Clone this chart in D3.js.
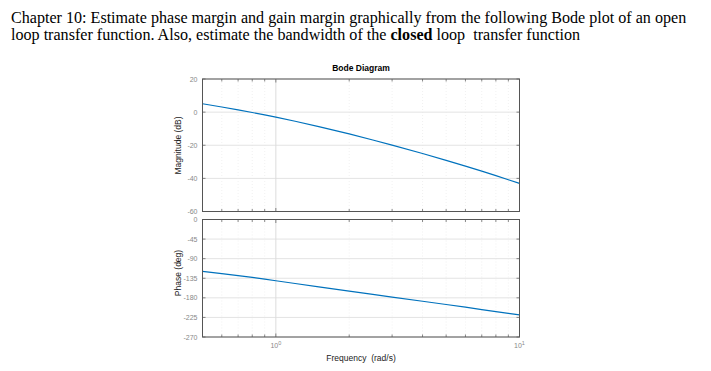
<!DOCTYPE html>
<html><head><meta charset="utf-8">
<script src="https://cdn.jsdelivr.net/npm/d3@7"></script>
<style>
body{margin:0;background:#fff;}
svg{display:block;}
text{white-space:pre;}
</style></head>
<body>
<svg id="c" width="711" height="371"></svg>
<script>
const freqs = [0.5,0.6,0.7,0.8,0.9,1,1.2,1.5,2,2.5,3,4,5,6,7,8,9,10];
const magDb = [5.04,3.09,1.35,-0.24,-1.70,-3.05,-5.52,-8.74,-13.18,-16.83,-19.92,-24.99,-29.10,-32.58,-35.62,-38.34,-40.80,-43.05];
const phaseDeg = [-119.4,-124.4,-129.0,-133.2,-137.1,-140.7,-147.0,-154.8,-164.7,-172.2,-178.3,-187.8,-195.3,-201.5,-206.9,-211.5,-215.7,-219.3];
const magTicks = [20,0,-20,-40,-60];
const phaseTicks = [0,-45,-90,-135,-180,-225,-270];
const minorFreqs = [0.6,0.7,0.8,0.9,2,3,4,5,6,7,8,9];
const majorFreqs = [1,10];
const headLines = ["Chapter 10: Estimate phase margin and gain margin graphically from the following Bode plot of an open",
  "loop transfer function. Also, estimate the bandwidth of the "];

const svg = d3.select("#c");
const L = 202.5, R = 519.5;
const x = d3.scaleLog().domain([0.5,10]).range([L,R]);
const yM = d3.scaleLinear().domain([-60,20]).range([211.5,79]);
const yP = d3.scaleLinear().domain([-270,0]).range([337,219.5]);

const hf = "'Liberation Serif','Times New Roman',serif";
svg.append("text").attr("x",11).attr("y",22.5).attr("font-family",hf).attr("font-size",16.1).attr("fill","#000").text(headLines[0]);
const t2 = svg.append("text").attr("x",11).attr("y",39.5).attr("font-family",hf).attr("font-size",16.1).attr("fill","#000");
t2.append("tspan").text(headLines[1]);
t2.append("tspan").attr("font-weight","bold").text("closed");
t2.append("tspan").text(" loop  transfer function");

const sf = "'Liberation Sans',Arial,Helvetica,sans-serif";
svg.append("text").attr("x",(L+R)/2).attr("y",71).attr("text-anchor","middle").attr("font-family",sf)
  .attr("font-size",8.5).attr("font-weight","bold").attr("fill","#000").text("Bode Diagram");

function panel(y, ticks, vals, label, labelY){
  const g = svg.append("g");
  const [b,t] = y.range();
  g.selectAll(".hg").data(ticks).join("line")
    .attr("x1",L).attr("x2",R).attr("y1",d=>y(d)).attr("y2",d=>y(d))
    .attr("stroke","#e3e3e3").attr("stroke-width",1);
  g.selectAll(".vm").data(minorFreqs).join("line")
    .attr("x1",d=>x(d)).attr("x2",d=>x(d)).attr("y1",t).attr("y2",b)
    .attr("stroke","#e8e8e8").attr("stroke-width",0.6).attr("stroke-dasharray","1,2");
  g.selectAll(".vM").data(majorFreqs).join("line")
    .attr("x1",d=>x(d)).attr("x2",d=>x(d)).attr("y1",t).attr("y2",b)
    .attr("stroke","#dcdcdc").attr("stroke-width",1);
  g.append("path").datum(freqs.map((f,i)=>[f,vals[i]]))
    .attr("fill","none").attr("stroke","#0072BD").attr("stroke-width",1.2)
    .attr("d",d3.line().x(d=>x(d[0])).y(d=>y(d[1])));
  const tk = "#555";
  g.selectAll(".tl").data(ticks).join("line")
    .attr("x1",L).attr("x2",L+3).attr("y1",d=>y(d)).attr("y2",d=>y(d)).attr("stroke",tk).attr("stroke-width",0.7);
  g.selectAll(".tr").data(ticks).join("line")
    .attr("x1",R).attr("x2",R-3).attr("y1",d=>y(d)).attr("y2",d=>y(d)).attr("stroke",tk).attr("stroke-width",0.7);
  const allF = minorFreqs.map(f=>[f,2.5]).concat(majorFreqs.map(f=>[f,3.5]));
  g.selectAll(".xb").data(allF).join("line")
    .attr("x1",d=>x(d[0])).attr("x2",d=>x(d[0])).attr("y1",b).attr("y2",d=>b-d[1]).attr("stroke",tk).attr("stroke-width",0.7);
  g.selectAll(".xt").data(allF).join("line")
    .attr("x1",d=>x(d[0])).attr("x2",d=>x(d[0])).attr("y1",t).attr("y2",d=>t+d[1]).attr("stroke",tk).attr("stroke-width",0.7);
  g.append("rect").attr("x",L).attr("y",t).attr("width",R-L).attr("height",b-t)
    .attr("fill","none").attr("stroke","#555").attr("stroke-width",1);
  g.selectAll(".yl").data(ticks).join("text")
    .attr("x",L-5).attr("y",d=>y(d)+2.5).attr("text-anchor","end")
    .attr("font-family",sf).attr("font-size",7).attr("fill","#888").text(d=>d);
  g.append("text").attr("transform",`translate(181,${labelY}) rotate(-90)`)
    .attr("text-anchor","middle").attr("font-family",sf).attr("font-size",8.5).attr("fill","#222").text(label);
}
panel(yM, magTicks, magDb, "Magnitude (dB)", 145.5);
panel(yP, phaseTicks, phaseDeg, "Phase (deg)", 273);

majorFreqs.forEach(f=>{
  const tx = svg.append("text").attr("x",x(f)).attr("y",348).attr("text-anchor","middle")
    .attr("font-family",sf).attr("font-size",7).attr("fill","#888");
  tx.append("tspan").text("10");
  tx.append("tspan").attr("dy",-3).attr("font-size",5.5).text(Math.round(Math.log10(f)));
});
svg.append("text").attr("x",(L+R)/2).attr("y",361).attr("text-anchor","middle")
  .attr("font-family",sf).attr("font-size",8.5).attr("fill","#222").text("Frequency  (rad/s)");
</script>
</body></html>
